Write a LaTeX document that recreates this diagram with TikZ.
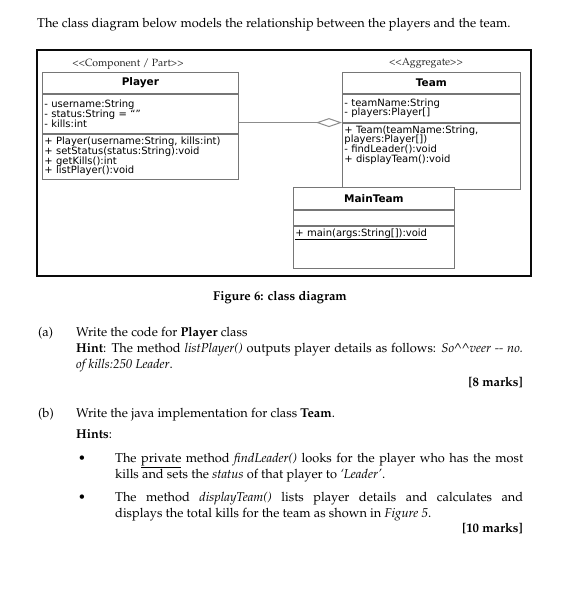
\documentclass[tikz,border=0pt]{standalone}
\usepackage[T1]{fontenc}
\usepackage{fontspec}
\usepackage{tikz}
\usetikzlibrary{arrows.meta,positioning}
\newfontfamily\umlfont{DejaVu Sans}
\newcommand\palfont{\fontencoding{T1}\fontfamily{ppl}\selectfont}
\definecolor{umlGray}{RGB}{118,118,118}
\definecolor{linkGray}{RGB}{140,140,140}
\definecolor{frameBlack}{RGB}{10,10,10}
\tikzset{
  bodytext/.style={font=\palfont\fontsize{12.8}{16}\selectfont, inner sep=0pt},
  stereo/.style={font=\palfont\fontsize{10.5}{12}\selectfont, inner sep=0pt, text=black!85},
  umlpart/.style={draw=umlGray, line width=0.8pt, fill=white, inner xsep=2pt, inner ysep=0pt,
    align=left, font=\umlfont\fontsize{10}{9.7}\selectfont},
  umltitle/.style={umlpart, align=center, font=\umlfont\bfseries\fontsize{10.5}{12}\selectfont},
  connector/.style={draw=linkGray, line width=1.5pt},
  frame/.style={draw=frameBlack, line width=1.1pt}
}

\begin{document}
\begin{tikzpicture}[x=1pt, y=-1pt]
  \useasboundingbox[fill=white] (0,0) rectangle (580,591);

  \node[bodytext, anchor=base west] (intro) at (37,28)
    {The class diagram below models the relationship between the players and the team.};

  % class diagram
  \draw[frame] (37,50) rectangle (531,276);
  \node[stereo, anchor=base] (playerStereo) at (128,67)
    {<{}<Component / Part>{}>};
  \node[stereo, anchor=base] (teamStereo) at (426,66)
    {<{}<Aggregate>{}>};

  \node[umltitle, text width=192pt, minimum height=21pt, anchor=north west] (player) at (42,72) {Player};
  \node[umlpart, text width=192pt, minimum height=39pt, below=0pt of player] (playerAttr)
    {- username:String\\- status:String = “”\\- kills:int};
  \node[umlpart, text width=192pt, minimum height=45pt, below=0pt of playerAttr] (playerOps)
    {+ Player(username:String, kills:int)\\+ setStatus(status:String):void\\+ getKills():int\\+ listPlayer():void};

  \node[umltitle, text width=174pt, minimum height=21pt, anchor=north west] (team) at (342,72) {Team};
  \node[umlpart, text width=174pt, minimum height=28pt, below=0pt of team] (teamAttr)
    {- teamName:String\\- players:Player[]};
  \node[umlpart, text width=174pt, text height=7pt, text depth=53pt, inner ysep=3pt, below=0pt of teamAttr] (teamOps)
    {+ Team(teamName:String,\\players:Player[])\\- findLeader():void\\+ displayTeam():void};

  \node[umltitle, text width=157pt, minimum height=22pt, anchor=north west] (mainTeam) at (293,187) {MainTeam};
  \node[umlpart, text width=157pt, minimum height=15pt, below=0pt of mainTeam] (mainTeamAttr) {};
  \node[umlpart, text width=157pt, text height=7pt, text depth=29pt, inner ysep=3pt, below=0pt of mainTeamAttr] (mainTeamOps)
    {\underline{+ main(args:String[]):void}};

  \draw[connector, -{Diamond[open, length=26pt, width=9pt, line width=1pt, fill=white]}]
    (playerAttr.east |- teamAttr.south west) -- (teamAttr.south west);

  \node[bodytext, anchor=base] (caption) at (280,300) {\textbf{Figure 6: class diagram}};

  % question (a)
  \node[bodytext, anchor=base west] (partA) at (38,336) {(a)};
  \node[bodytext, anchor=base west] (taskA) at (76,336) {Write the code for \textbf{Player} class};
  \node[bodytext, text width=447pt, align=justify, anchor=base west] (hintA) at (76,352)
    {\textbf{Hint}: The method \textit{listPlayer()} outputs player details as follows: \textit{So\textasciicircum\textasciicircum veer -{}- no.}\linebreak\textit{of kills:250 Leader}.};
  \node[bodytext, anchor=base east] (marksA) at (523,386) {\textbf{[8 marks]}};

  % question (b)
  \node[bodytext, anchor=base west] (partB) at (38,417) {(b)};
  \node[bodytext, anchor=base west] (taskB) at (76,417) {Write the java implementation for class \textbf{Team}.};
  \node[bodytext, anchor=base west] (hintsB) at (76,438) {\textbf{Hints}:};
  \node[bodytext, anchor=base west] (bulletOne) at (78,462) {\textbullet};
  \node[bodytext, text width=408pt, align=justify, anchor=base west] (hintOne) at (115,462)
    {The \underline{private} method \textit{findLeader()} looks for the player who has the most\linebreak kills and sets the \textit{status} of that player to \textit{`Leader'}.};
  \node[bodytext, anchor=base west] (bulletTwo) at (78,501) {\textbullet};
  \node[bodytext, text width=408pt, align=justify, anchor=base west] (hintTwo) at (115,501)
    {The method \textit{displayTeam()} lists player details and calculates and\linebreak displays the total kills for the team as shown in \textit{Figure 5}.};
  \node[bodytext, anchor=base east] (marksB) at (523,532) {\textbf{[10 marks]}};
\end{tikzpicture}
\end{document}
